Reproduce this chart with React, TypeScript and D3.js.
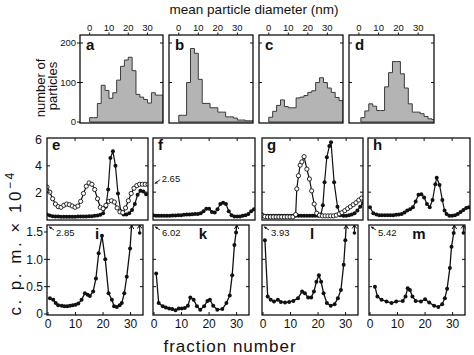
import React from "react";
import * as d3 from "d3";

// ---------- histogram data (particle counts per 2 nm bin) ----------
const BIN_WIDTH = 2;
const sizeTicks = [0, 10, 20, 30];
const countTickLabels = [0, 100, 200];
const countTickMarks = [100, 200];
const histA = [11, 11, 47, 93, 80, 60, 74, 106, 141, 157, 164, 130, 70, 63, 57, 48, 74, 68, 68];
const histB = [17, 17, 100, 186, 174, 108, 47, 47, 36, 36, 25, 25, 13, 13, 10, 5, 5, 3, 3];
const histC = [12, 27, 42, 56, 39, 36, 36, 61, 63, 67, 75, 79, 100, 112, 100, 86, 75, 62, 54];
const histD = [11, 28, 46, 40, 29, 29, 89, 125, 153, 153, 122, 86, 46, 25, 25, 21, 14, 8, 6];
const histStartA = 0;
const histStartB = 0;
const histStartC = 0;
const histStartD = 1;

// ---------- gradient fractions, middle row (c.p.m. x 10^-4) ----------
const fractionTicks = [0, 10, 20, 30];
const midTicks = [2, 4, 6];
const midSideTicks = [2, 4];

const eFilledFr = [0, 1, 2, 3, 4, 5, 6, 7, 8, 9, 10, 11, 12, 13, 14, 15, 16, 17, 18, 19, 20, 21, 21.8, 22.6, 23.5, 24.4, 25.3, 26.3, 27.3, 28.3, 29.3, 30.3, 31.3, 32.3, 33.3, 34.3, 35.3];
const eFilledVal = [0.3, 0.22, 0.18, 0.15, 0.15, 0.14, 0.14, 0.14, 0.14, 0.14, 0.14, 0.15, 0.15, 0.15, 0.16, 0.17, 0.18, 0.2, 0.22, 0.28, 0.4, 0.9, 2.2, 4.6, 5.1, 4.0, 1.9, 0.55, 0.3, 0.3, 0.4, 0.65, 1.1, 1.8, 2.1, 2.05, 1.85];
const eOpenFr = [0, 1, 2, 3, 4, 5, 6, 7, 8, 9, 10, 11, 12, 13, 14, 15, 16, 17, 18, 19, 20, 21, 22, 23, 24, 25, 26, 27, 28, 29, 30, 31, 32, 33, 34, 35, 36];
const eOpenVal = [2.4, 2.0, 1.5, 1.1, 0.9, 0.85, 1.0, 1.1, 1.05, 0.95, 0.85, 0.95, 1.3, 1.9, 2.45, 2.7, 2.6, 2.2, 1.5, 0.85, 0.75, 1.0, 1.3, 1.35, 1.25, 0.8, 0.5, 0.45, 0.8, 1.35, 1.9, 2.3, 2.5, 2.6, 2.6, 2.6, 2.6];

const fFilledFr = [0, 1, 2, 3, 4, 5, 6, 7, 8, 9, 10, 11, 12, 13, 14, 15, 16, 17, 18, 19, 20, 21, 22, 23, 24, 25, 26, 27, 28, 29, 30, 31, 32, 33, 34, 35, 36];
const fFilledVal = [0.25, 0.2, 0.2, 0.2, 0.2, 0.2, 0.2, 0.22, 0.22, 0.25, 0.25, 0.28, 0.3, 0.3, 0.32, 0.35, 0.35, 0.4, 0.55, 0.75, 0.75, 0.5, 0.45, 0.7, 1.1, 1.2, 1.1, 0.55, 0.25, 0.15, 0.15, 0.15, 0.2, 0.25, 0.35, 0.55, 0.7];

const gOpenFr = [0, 1, 2, 3, 4, 5, 6, 7, 8, 9, 10, 11, 12, 12.4, 13, 13.6, 14.2, 15, 16, 16.9, 17.7, 18.6, 19.5, 20.5, 21.5, 22.5, 23.5, 24.5, 25.5, 26.5, 27.5, 28.5, 29.5, 30.5, 31.5, 32.5, 33.5, 34.5, 35.5];
const gOpenVal = [0.25, 0.15, 0.12, 0.12, 0.12, 0.12, 0.12, 0.12, 0.12, 0.12, 0.12, 0.12, 0.3, 2.25, 3.25, 4.05, 4.3, 4.7, 3.75, 3.0, 2.1, 1.1, 0.4, 0.25, 0.2, 0.2, 0.2, 0.2, 0.2, 0.25, 0.35, 0.45, 0.6, 0.75, 0.9, 1.05, 1.2, 1.4, 1.55];
const gFilledFr = [0, 1, 2, 3, 4, 5, 6, 7, 8, 9, 10, 11, 12, 13, 14, 15, 16, 17, 18, 19, 20, 21, 21.7, 22.3, 23.1, 24, 24.6, 25.7, 26.9, 27.9, 29, 30, 31, 32, 33, 34, 35, 36];
const gFilledVal = [0.3, 0.2, 0.2, 0.2, 0.2, 0.2, 0.2, 0.2, 0.2, 0.2, 0.2, 0.2, 0.2, 0.2, 0.2, 0.2, 0.2, 0.2, 0.2, 0.2, 0.2, 0.3, 1.0, 2.75, 4.65, 5.5, 5.8, 2.75, 0.9, 0.25, 0.2, 0.2, 0.25, 0.3, 0.4, 0.6, 0.9, 1.2];

const hFilledFr = [0.7, 1.9, 3, 4, 5, 6, 7, 8, 9, 10, 11, 12, 13, 14, 15, 16, 17, 18, 19, 20, 21, 22, 23, 24, 24.5, 25.5, 26.5, 27.3, 28, 29, 30, 31, 32, 33, 34, 35, 36];
const hFilledVal = [0.85, 0.4, 0.3, 0.25, 0.25, 0.25, 0.25, 0.25, 0.25, 0.28, 0.3, 0.35, 0.45, 0.6, 0.7, 0.85, 1.3, 1.8, 1.85, 1.6, 1.1, 0.85, 1.4, 2.6, 3.1, 2.55, 1.4, 0.6, 0.35, 0.2, 0.2, 0.25, 0.35, 0.5, 0.65, 0.8, 0.85];

// ---------- bottom row ----------
const lowTicks = [0, 0.5, 1.0, 1.5];
const lowTickLabels = ["0", "0.5", "1.0", "1.5"];
const lowSideTicks = [0.5, 1.0];

const iFr = [0.7, 1.9, 2.8, 3.7, 5, 6, 7, 8, 9, 10, 11, 12.2, 13.4, 14.4, 15.2, 16.4, 17.4, 18.4, 19.6, 20.8, 22, 23.2, 24, 25, 26, 26.8, 27.7, 28.6, 29.8, 30.6];
const iVal = [0.29, 0.26, 0.2, 0.16, 0.15, 0.14, 0.14, 0.15, 0.16, 0.17, 0.19, 0.26, 0.38, 0.35, 0.33, 0.41, 0.65, 1.11, 1.43, 1.0, 0.38, 0.26, 0.14, 0.13, 0.16, 0.2, 0.38, 0.68, 1.2, 1.8];
const kFr = [0.8, 1.7, 3.2, 4.3, 5.5, 6.6, 7.8, 9, 10.1, 11.2, 12.3, 13.2, 14.4, 15.6, 16.8, 18.2, 19.4, 20.3, 21.5, 23, 24.8, 26.3, 27.5, 28.4, 29.2, 29.8, 30.3];
const kVal = [0.74, 0.2, 0.14, 0.12, 0.1, 0.09, 0.07, 0.1, 0.1, 0.11, 0.15, 0.3, 0.26, 0.14, 0.08, 0.14, 0.24, 0.26, 0.15, 0.08, 0.09, 0.2, 0.34, 0.71, 1.26, 1.49, 1.8];
const lFr = [0.7, 1.7, 2.8, 4, 5.4, 6.5, 8, 9.5, 11, 12.7, 14.2, 15.2, 16.4, 17.5, 18.5, 19.4, 20.3, 21.1, 22, 23.2, 24.6, 26, 27.2, 28.3, 29.3, 29.9, 30.4];
const lVal = [1.35, 0.32, 0.26, 0.23, 0.26, 0.22, 0.21, 0.22, 0.24, 0.29, 0.41, 0.38, 0.3, 0.3, 0.41, 0.59, 0.71, 0.59, 0.38, 0.2, 0.15, 0.18, 0.29, 0.44, 0.9, 1.35, 1.8];
const mFr = [1.8, 2.7, 4.2, 6, 7.8, 9.5, 11.9, 12.9, 13.7, 14.5, 15.4, 16.6, 18.5, 20, 21.5, 23.3, 24.8, 26.2, 27.2, 28, 29, 29.6, 30.4, 30.9];
const mVal = [0.5, 0.32, 0.26, 0.23, 0.2, 0.23, 0.24, 0.32, 0.47, 0.44, 0.32, 0.24, 0.23, 0.27, 0.21, 0.15, 0.13, 0.18, 0.29, 0.46, 0.84, 1.23, 1.48, 1.8];
const offScaleLabels = ["2.85", "6.02", "3.93", "5.42"];
const offScaleFr = [33.3, null, 33.2, 33.9];
const fAnnotVal = 2.65;

const FONT = "'Liberation Sans', Arial, sans-serif";
const INK = "#111";

type Series = { fr: number[]; val: number[]; open: boolean };

function Histogram(props: { x0: number; x1: number; values: number[]; start: number; letter: string; showY: boolean }) {
  const { x0, x1, values, start, letter, showY } = props;
  const top = 35, bottom = 123;
  const x = d3.scaleLinear().domain([-5, 38]).range([x0, x1]);
  const y = d3.scaleLinear().domain([0, 200]).range([122, 43]);
  const pts: [number, number][] = [[x(start), y(0)]];
  values.forEach((v, i) => {
    const a = start + i * BIN_WIDTH;
    pts.push([x(a), y(v)], [x(a + BIN_WIDTH), y(v)]);
  });
  pts.push([x(start + values.length * BIN_WIDTH), y(0)]);
  const path = d3.line()(pts) as string;
  const cid = "clip-h-" + letter;
  return (
    <g>
      <clipPath id={cid}><rect x={x0} y={top} width={x1 - x0} height={bottom - top} /></clipPath>
      <path d={path + "Z"} fill="#b4b4b4" stroke="#3a3a3a" strokeWidth={1} clipPath={`url(#${cid})`} />
      <rect x={x0} y={top} width={x1 - x0} height={bottom - top} fill="none" stroke={INK} strokeWidth={1.3} />
      {sizeTicks.map((t) => (
        <g key={t}>
          <line x1={x(t)} x2={x(t)} y1={top} y2={top - 2.5} stroke={INK} strokeWidth={1} />
          <text x={x(t)} y={31} fontSize={9.5} textAnchor="middle" fontFamily={FONT} fill={INK}>{t}</text>
        </g>
      ))}
      {countTickMarks.map((t) => (
        <g key={t}>
          <line x1={x0} x2={x0 + 3} y1={y(t)} y2={y(t)} stroke={INK} strokeWidth={1} />
          <line x1={x1} x2={x1 - 3} y1={y(t)} y2={y(t)} stroke={INK} strokeWidth={1} />
        </g>
      ))}
      {showY && countTickLabels.map((t) => (
        <g key={"l" + t}>
          <line x1={x0} x2={x0 - 3} y1={y(t)} y2={y(t)} stroke={INK} strokeWidth={1} />
          <text x={x0 - 4} y={y(t)} dy="0.35em" fontSize={9.5} textAnchor="end" fontFamily={FONT} fill={INK}>{t}</text>
        </g>
      ))}
      <text x={x0 + 6} y={50} fontSize={15} fontWeight="bold" fontFamily={FONT} fill={INK}>{letter}</text>
    </g>
  );
}

function dot(cx: number, cy: number, open: boolean, key: string) {
  return open ? (
    <circle key={key} cx={cx} cy={cy} r={2.1} fill="#fff" stroke={INK} strokeWidth={0.9} />
  ) : (
    <circle key={key} cx={cx} cy={cy} r={2} fill={INK} />
  );
}

function MidPanel(props: { x0: number; x1: number; letter: string; series: Series[]; showY: boolean; annot?: number }) {
  const { x0, x1, letter, series, showY, annot } = props;
  const top = 138, bottom = 220;
  const x = d3.scaleLinear().domain([0, 36]).range([x0, x0 + 101]);
  const y = d3.scaleLinear().domain([0, 6]).range([218.5, 139.5]);
  const cid = "clip-m-" + letter;
  return (
    <g>
      <clipPath id={cid}><rect x={x0} y={top} width={x1 - x0} height={bottom - top} /></clipPath>
      <g clipPath={`url(#${cid})`}>
        {series.map((s, si) => {
          const pts: [number, number][] = s.fr.map((f, i) => [x(f), y(s.val[i])]);
          return (
            <g key={si}>
              <path d={d3.line()(pts) as string} fill="none" stroke={INK} strokeWidth={1.2} />
              {pts.map((p, i) => dot(p[0], p[1], s.open, si + "-" + i))}
            </g>
          );
        })}
      </g>
      <rect x={x0} y={top} width={x1 - x0} height={bottom - top} fill="none" stroke={INK} strokeWidth={1.3} />
      {fractionTicks.filter((t) => t > 0).map((t) => (
        <line key={t} x1={x(t)} x2={x(t)} y1={top} y2={top + 3} stroke={INK} strokeWidth={1} />
      ))}
      {midSideTicks.map((t) => (
        <g key={"s" + t}>
          <line x1={x0} x2={x0 + 3} y1={y(t)} y2={y(t)} stroke={INK} strokeWidth={1} />
          <line x1={x1} x2={x1 - 3} y1={y(t)} y2={y(t)} stroke={INK} strokeWidth={1} />
        </g>
      ))}
      {showY && midTicks.map((t) => (
        <text key={"l" + t} x={x0 - 5} y={y(t)} dy="0.35em" fontSize={12.5} textAnchor="end" fontFamily={FONT} fill={INK}>{t}</text>
      ))}
      {annot !== undefined && (
        <g>
          <line x1={x(0.6)} y1={y(annot)} x2={x(2.6)} y2={y(annot) - 4} stroke={INK} strokeWidth={0.9} />
          <path d={`M${x(0.6)},${y(annot)}l3.2,-0.2l-1.4,-2.2Z`} fill={INK} />
          <text x={x(3.1)} y={y(annot) - 2} fontSize={9.5} fontFamily={FONT} fill={INK}>{annot}</text>
        </g>
      )}
      <text x={x0 + 5} y={150} fontSize={15} fontWeight="bold" fontFamily={FONT} fill={INK}>{letter}</text>
    </g>
  );
}

function LowPanel(props: { x0: number; x1: number; letter: string; fr: number[]; val: number[]; showY: boolean; label: string; off: number | null }) {
  const { x0, x1, letter, fr, val, showY, label, off } = props;
  const top = 225, bottom = 315;
  const x = d3.scaleLinear().domain([0, 34.5]).range([x0 + 1, x1]);
  const y = d3.scaleLinear().domain([0, 1.5]).range([314, 232]);
  const cid = "clip-l-" + letter;
  const pts: [number, number][] = fr.map((f, i) => [x(f), y(val[i])]);
  const n = pts.length;
  const [ax, ay] = pts[n - 2];
  const [bx, by] = pts[n - 1];
  const exitX = ax + ((top - ay) / (by - ay)) * (bx - ax);
  return (
    <g>
      <clipPath id={cid}><rect x={x0} y={top} width={x1 - x0} height={bottom - top} /></clipPath>
      <g clipPath={`url(#${cid})`}>
        <path d={d3.line()(pts) as string} fill="none" stroke={INK} strokeWidth={1.3} />
        {pts.slice(0, n - 1).map((p, i) => dot(p[0], p[1], false, "d" + i))}
      </g>
      <path d={`M${exitX - 2.2},${top + 4}L${exitX},${top}L${exitX + 2.2},${top + 4}`} fill="none" stroke={INK} strokeWidth={1} />
      {off !== null && (
        <g>
          <line x1={x(off)} x2={x(off)} y1={top} y2={top + 9} stroke={INK} strokeWidth={1.1} />
          <path d={`M${x(off) - 2.2},${top + 3.5}L${x(off)},${top}L${x(off) + 2.2},${top + 3.5}`} fill="none" stroke={INK} strokeWidth={1} />
          <circle cx={x(off)} cy={top + 8} r={1.8} fill={INK} />
        </g>
      )}
      <rect x={x0} y={top} width={x1 - x0} height={bottom - top} fill="none" stroke={INK} strokeWidth={1.3} />
      {fractionTicks.map((t) => (
        <g key={t}>
          <line x1={x(t)} x2={x(t)} y1={bottom} y2={bottom - 3} stroke={INK} strokeWidth={1} />
          <text x={x(t)} y={328} fontSize={12} textAnchor="middle" fontFamily={FONT} fill={INK}>{t}</text>
        </g>
      ))}
      {lowSideTicks.map((t) => (
        <g key={"s" + t}>
          <line x1={x0} x2={x0 + 3} y1={y(t)} y2={y(t)} stroke={INK} strokeWidth={1} />
          <line x1={x1} x2={x1 - 3} y1={y(t)} y2={y(t)} stroke={INK} strokeWidth={1} />
        </g>
      ))}
      {showY && lowTicks.map((t, i) => (
        <g key={"l" + t}>
          <line x1={x0} x2={x0 - 3} y1={y(t)} y2={y(t)} stroke={INK} strokeWidth={1} />
          <text x={x0 - 4} y={y(t)} dy="0.35em" fontSize={12} textAnchor="end" fontFamily={FONT} fill={INK}>{lowTickLabels[i]}</text>
        </g>
      ))}
      <line x1={x0 + 7} y1={top + 5} x2={x0 + 2.5} y2={top + 2} stroke={INK} strokeWidth={0.9} />
      <path d={`M${x0 + 1.8},${top + 1.5}l3.2,0.4l-1.6,2.4Z`} fill={INK} />
      <text x={x0 + 9} y={top + 11} fontSize={9.5} fontFamily={FONT} fill={INK}>{label}</text>
      <text x={x0 + 50} y={top + 14} fontSize={15} fontWeight="bold" textAnchor="middle" fontFamily={FONT} fill={INK}>{letter}</text>
    </g>
  );
}

export default function App() {
  return (
    <svg width={474} height={355} viewBox="0 0 474 355" style={{ position: "absolute", left: 0, top: 0, background: "#fff" }}>
      <rect x={0} y={0} width={474} height={355} fill="#fff" />
      <text x={254} y={14} fontSize={13.5} textAnchor="middle" fontFamily={FONT} fill={INK}>mean particle diameter (nm)</text>
      <g transform="translate(45,88) rotate(-90)">
        <text x={0} y={0} fontSize={13} textAnchor="middle" fontFamily={FONT} fill={INK}>number of</text>
      </g>
      <g transform="translate(57,86) rotate(-90)">
        <text x={0} y={0} fontSize={13} textAnchor="middle" fontFamily={FONT} fill={INK}>particles</text>
      </g>

      <Histogram x0={80} x1={163} values={histA} start={histStartA} letter="a" showY={true} />
      <Histogram x0={169} x1={253} values={histB} start={histStartB} letter="b" showY={false} />
      <Histogram x0={259} x1={343} values={histC} start={histStartC} letter="c" showY={false} />
      <Histogram x0={349} x1={434} values={histD} start={histStartD} letter="d" showY={false} />

      <MidPanel x0={47} x1={148} letter="e" showY={true} series={[{ fr: eFilledFr, val: eFilledVal, open: false }, { fr: eOpenFr, val: eOpenVal, open: true }]} />
      <MidPanel x0={153} x1={255} letter="f" showY={false} annot={fAnnotVal} series={[{ fr: fFilledFr, val: fFilledVal, open: false }]} />
      <MidPanel x0={262} x1={363} letter="g" showY={false} series={[{ fr: gFilledFr, val: gFilledVal, open: false }, { fr: gOpenFr, val: gOpenVal, open: true }]} />
      <MidPanel x0={368} x1={470} letter="h" showY={false} series={[{ fr: hFilledFr, val: hFilledVal, open: false }]} />

      <LowPanel x0={47} x1={143} letter="i" fr={iFr} val={iVal} showY={true} label={offScaleLabels[0]} off={offScaleFr[0]} />
      <LowPanel x0={153} x1={249} letter="k" fr={kFr} val={kVal} showY={false} label={offScaleLabels[1]} off={offScaleFr[1]} />
      <LowPanel x0={262} x1={358} letter="l" fr={lFr} val={lVal} showY={false} label={offScaleLabels[2]} off={offScaleFr[2]} />
      <LowPanel x0={369} x1={465} letter="m" fr={mFr} val={mVal} showY={false} label={offScaleLabels[3]} off={offScaleFr[3]} />

      <g transform="translate(21,243) rotate(-90)">
        <text x={0} y={0} fontSize={17} letterSpacing={2.5} textAnchor="middle" fontFamily={FONT} fill={INK}>
          c. p. m. × 10<tspan dy={-7} fontSize={12}>−4</tspan>
        </text>
      </g>
      <text x={230} y={352} fontSize={17} letterSpacing={1} textAnchor="middle" fontFamily={FONT} fill={INK}>fraction number</text>
    </svg>
  );
}
